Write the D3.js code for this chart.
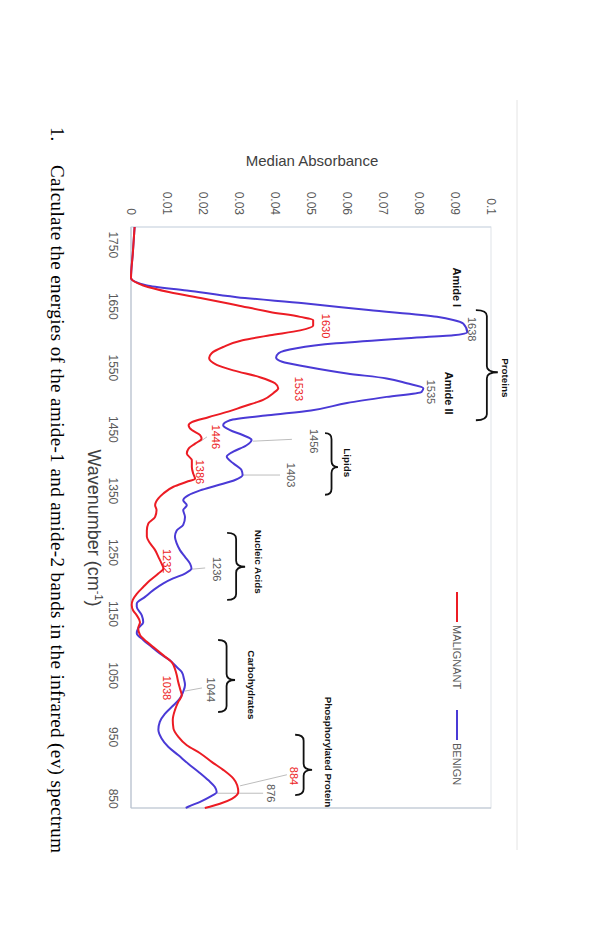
<!DOCTYPE html>
<html><head><meta charset="utf-8">
<script src="https://cdn.jsdelivr.net/npm/d3@7/dist/d3.min.js"></script>
<style>html,body{margin:0;padding:0;background:#fff;}svg{display:block;}</style>
</head><body>
<script>
// ---------- DATA ----------
const wnTicks = [1750,1650,1550,1450,1350,1250,1150,1050,950,850];
const absTicks = [0,0.01,0.02,0.03,0.04,0.05,0.06,0.07,0.08,0.09,0.1];
const seriesNames = ["MALIGNANT","BENIGN"];

const benignWn = [1778,1735,1695,1683,1675,1664,1654,1643,1632,1627,1621,1607,1602,1597,1589,1581,1573,1566,1559,1551,1540,1532,1524,1516,1510,1502,1492,1480,1472,1464,1456,1448,1440,1432,1423,1413,1405,1394,1383,1375,1367,1358,1350,1342,1334,1326,1318,1307,1294,1285,1275,1264,1253,1242,1231,1223,1215,1207,1199,1188,1177,1166,1161,1147,1136,1126,1118,1107,1096,1085,1074,1063,1055,1044,1034,1023,1012,1001,987,974,961,947,933,920,906,893,879,868,860,852,844,836,834];
const benignAbs = [0.0010,0.0005,0.0000,0.0044,0.0155,0.0294,0.0480,0.0660,0.0850,0.0895,0.0923,0.0934,0.0895,0.0756,0.0570,0.0460,0.0410,0.0403,0.0420,0.0488,0.0600,0.0710,0.0766,0.0812,0.0807,0.0710,0.0600,0.0500,0.0380,0.0275,0.0256,0.0275,0.0310,0.0335,0.0320,0.0284,0.0266,0.0284,0.0307,0.0310,0.0289,0.0238,0.0192,0.0159,0.0145,0.0155,0.0145,0.0150,0.0145,0.0127,0.0122,0.0127,0.0136,0.0150,0.0164,0.0168,0.0150,0.0117,0.0090,0.0062,0.0039,0.0016,0.0016,0.0030,0.0034,0.0020,0.0016,0.0034,0.0057,0.0080,0.0108,0.0127,0.0141,0.0147,0.0150,0.0145,0.0136,0.0118,0.0094,0.0080,0.0076,0.0085,0.0104,0.0131,0.0159,0.0187,0.0215,0.0233,0.0238,0.0219,0.0192,0.0159,0.0152];

const malignantWn = [1778,1735,1695,1683,1672,1662,1651,1640,1632,1627,1618,1610,1602,1594,1583,1573,1565,1554,1545,1534,1524,1516,1508,1497,1486,1478,1469,1461,1456,1448,1440,1434,1426,1418,1410,1399,1388,1377,1369,1364,1356,1345,1337,1326,1318,1307,1296,1285,1275,1264,1253,1242,1231,1223,1215,1204,1193,1182,1172,1164,1155,1147,1136,1126,1115,1104,1093,1082,1071,1060,1050,1039,1028,1017,1006,993,977,963,950,936,923,909,896,882,871,860,849,841,834];
const malignantAbs = [0.0010,0.0005,0.0000,0.0034,0.0108,0.0200,0.0294,0.0386,0.0470,0.0506,0.0506,0.0470,0.0386,0.0310,0.0256,0.0224,0.0217,0.0238,0.0284,0.0358,0.0400,0.0409,0.0395,0.0367,0.0310,0.0270,0.0215,0.0169,0.0160,0.0169,0.0192,0.0196,0.0178,0.0160,0.0155,0.0169,0.0169,0.0173,0.0178,0.0155,0.0118,0.0090,0.0076,0.0067,0.0071,0.0067,0.0048,0.0044,0.0044,0.0053,0.0067,0.0076,0.0085,0.0090,0.0076,0.0053,0.0034,0.0016,0.0005,0.0002,0.0006,0.0016,0.0025,0.0020,0.0025,0.0044,0.0067,0.0090,0.0113,0.0122,0.0127,0.0131,0.0136,0.0141,0.0131,0.0122,0.0116,0.0118,0.0131,0.0155,0.0192,0.0224,0.0256,0.0284,0.0295,0.0298,0.0280,0.0247,0.0205];

// annotation labels: text, wavenumber, absorbance
const groupLabels = [
  ["Proteins",1533,0.1031],["Amide I",1680,0.0894],["Amide II",1508,0.0872],
  ["Lipids",1395,0.0592],["Nucleic Acids",1234,0.0344],["Carbohydrates",1034,0.0325],
  ["Phosphorylated Protein",925,0.0539]
];
const peakLabels = [
  ["1638",1612,0.0936,"g"],["1535",1510,0.0822,"g"],["1630",1617,0.0531,"r"],["1533",1515,0.0456,"r"],
  ["1456",1430,0.0497,"g"],["1403",1375,0.0433,"g"],["1446",1437,0.0225,"r"],["1386",1380,0.0180,"r"],
  ["1232",1235,0.0090,"r"],["1236",1222,0.0228,"g"],["1044",1026,0.0211,"g"],["1038",1029,0.0089,"r"],
  ["884",886,0.0442,"r"],["876",858,0.0378,"g"]
];
// braces: wn start, wn end, wn tip, abs arm, abs tip
const braces = [
  [1643,1464,1542,0.0958,0.1019],[1443,1343,1388,0.0539,0.0575],[1281,1172,1226,0.0267,0.0317],
  [1107,990,1042,0.0242,0.0289],[953,855,896,0.0456,0.0503]
];
// leader lines: wn1, abs1, wn2, abs2
const leaders = [
  [1430,0.0339,1433,0.0447],[1375,0.0311,1375,0.0414],[1222,0.0169,1224,0.0206],
  [1024,0.0150,1029,0.0197],[870,0.0303,888,0.0433],[858,0.0239,858,0.0367],[1430,0.0194,1437,0.0211]
];

// ---------- DRAW ----------
const W = 596, H = 950;
const RED = "#ec1c24", BLUE = "#4a3ad6";
const svg = d3.select("body").append("svg").attr("width",W).attr("height",H);
svg.append("rect").attr("width",W).attr("height",H).attr("fill","#fff");

// whole page is rotated 90deg clockwise
const g = svg.append("g").attr("transform",`translate(${W},0) rotate(90)`);

const x = d3.scaleLinear().domain([1778,834]).range([227,808]);
const y = d3.scaleLinear().domain([0,0.1]).range([465,105]);

// outer chart border (faint)
g.append("line").attr("x1",100).attr("x2",850).attr("y1",79).attr("y2",79)
  .attr("stroke","#e4e4e4").attr("stroke-width",1);

// plot area
g.append("rect").attr("x",x(1778)).attr("y",y(0.1)).attr("width",x(834)-x(1778)).attr("height",y(0)-y(0.1))
  .attr("fill","none").attr("stroke","#dfe3e8").attr("stroke-width",1);
g.append("line").attr("x1",x(1778)).attr("x2",x(834)).attr("y1",y(0)).attr("y2",y(0)).attr("stroke","#b9c3d0").attr("stroke-width",1.2);
g.append("line").attr("x1",x(1778)).attr("x2",x(1778)).attr("y1",y(0)).attr("y2",y(0.1)).attr("stroke","#cfdae6").attr("stroke-width",1.2);
g.append("line").attr("x1",x(834)).attr("x2",x(834)).attr("y1",y(0)).attr("y2",y(0.1)).attr("stroke","#b9c3d0").attr("stroke-width",1.2);

const fontSans = "'Liberation Sans', Arial, sans-serif";

const xAxis = g.append("g").attr("transform",`translate(0,${y(0)})`)
  .call(d3.axisBottom(x).tickValues(wnTicks).tickSize(0).tickPadding(13).tickFormat(d3.format("d")));
xAxis.select(".domain").remove();
xAxis.selectAll("text").attr("fill","#595959").style("font-family",fontSans).style("font-size","12px");

const yAxis = g.append("g").attr("transform",`translate(${x(1778)},0)`)
  .call(d3.axisLeft(y).tickValues(absTicks).tickSize(0).tickPadding(12).tickFormat(d => d===0 ? "0" : String(+d.toFixed(2))));
yAxis.select(".domain").remove();
yAxis.selectAll("text").attr("fill","#595959").style("font-family",fontSans).style("font-size","12px");

// axis titles
g.append("text").attr("transform",`translate(166,${596-312}) rotate(-90)`).attr("text-anchor","middle")
  .style("font-family",fontSans).style("font-size","15px").attr("fill","#404040").text("Median Absorbance");
const xt = g.append("text").attr("x",528).attr("y",508).attr("text-anchor","middle")
  .style("font-family",fontSans).style("font-size","18px").attr("fill","#404040");
xt.append("tspan").text("Wavenumber (cm");
xt.append("tspan").attr("dy",-7).style("font-size","11px").text("-1");
xt.append("tspan").attr("dy",7).text(")");

// leaders
g.selectAll(".leader").data(leaders).enter().append("line")
  .attr("x1",d=>x(d[0])).attr("y1",d=>y(d[1])).attr("x2",d=>x(d[2])).attr("y2",d=>y(d[3]))
  .attr("stroke","#bdbdbd").attr("stroke-width",1);

// lines
const line = d3.line().x(d=>x(d[0])).y(d=>y(d[1])).curve(d3.curveMonotoneX);
const malData = malignantWn.map((w,i)=>[w,malignantAbs[i]]);
const benData = benignWn.map((w,i)=>[w,benignAbs[i]]);
g.append("path").datum(benData).attr("d",line).attr("fill","none").attr("stroke",BLUE).attr("stroke-width",2);
g.append("path").datum(malData).attr("d",line).attr("fill","none").attr("stroke",RED).attr("stroke-width",2);

// braces
function bracePath(b){
  const u1=x(b[0]), u2=x(b[1]), ut=x(b[2]), va=y(b[3]), vt=y(b[4]);
  const vm=(va+vt)/2, r=6;
  return `M${u1},${va} Q${u1},${vm} ${u1+r},${vm} L${ut-r},${vm} Q${ut},${vm} ${ut},${vt} Q${ut},${vm} ${ut+r},${vm} L${u2-r},${vm} Q${u2},${vm} ${u2},${va}`;
}
g.selectAll(".brace").data(braces).enter().append("path").attr("d",bracePath)
  .attr("fill","none").attr("stroke","#111").attr("stroke-width",1.8);

// group labels
g.selectAll(".glab").data(groupLabels).enter().append("text")
  .attr("x",d=>x(d[1])).attr("y",d=>y(d[2])).attr("text-anchor","middle")
  .style("font-family",fontSans).style("font-size",d=>d[0].startsWith("Amide") ? "11px" : "9.8px")
  .style("font-weight","bold").attr("fill","#111")
  .text(d=>d[0]);

// peak labels
g.selectAll(".plab").data(peakLabels).enter().append("text")
  .attr("x",d=>x(d[1])).attr("y",d=>y(d[2])).attr("text-anchor","middle")
  .style("font-family",fontSans).style("font-size","11px").attr("fill",d=>d[3]==="r"?RED:"#595959")
  .text(d=>d[0]);

// legend
const legend = [[RED,592,625],[BLUE,710,743]];
legend.forEach((l,i)=>{
  g.append("line").attr("x1",l[1]).attr("x2",l[1]+30).attr("y1",139).attr("y2",139).attr("stroke",l[0]).attr("stroke-width",2);
  g.append("text").attr("x",l[2]).attr("y",143).style("font-family",fontSans).style("font-size","11px")
    .attr("fill","#595959").text(seriesNames[i]);
});

// question text
const fontSerif = "'Liberation Serif', 'Times New Roman', serif";
g.append("text").attr("x",127).attr("y",545).style("font-family",fontSerif).style("font-size","19px").attr("fill","#000").text("1.");
g.append("text").attr("x",165).attr("y",545).style("font-family",fontSerif).style("font-size","19px").attr("fill","#000")
  .attr("textLength",688).attr("lengthAdjust","spacing")
  .text("Calculate the energies of the amide-1 and amide-2 bands in the infrared (ev) spectrum");
</script>
</body></html>
